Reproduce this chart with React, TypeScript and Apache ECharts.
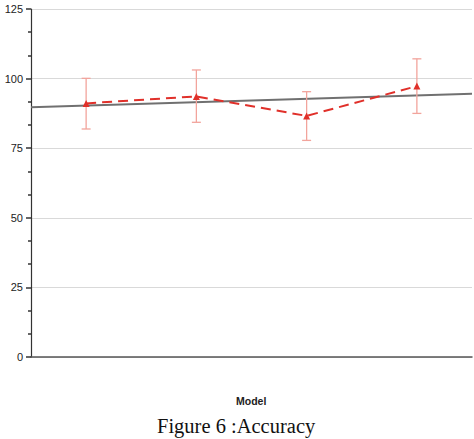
import React, { useEffect, useRef } from "react";
import * as echarts from "echarts";

const categories = [1, 2, 3, 4];
const accuracy = [91.1, 93.6, 86.6, 97.3];
const errLow = [81.9, 84.3, 77.8, 87.5];
const errHigh = [100.1, 103.1, 95.3, 107.1];
const trendX = [0.5, 4.5];
const trendY = [89.7, 94.6];
const yTicks = [0, 25, 50, 75, 100, 125];

export default function App() {
  const ref = useRef<HTMLDivElement>(null);
  useEffect(() => {
    const chart = echarts.init(ref.current!, undefined, { renderer: "svg" });
    const option: any = {
      animation: false,
      backgroundColor: "#ffffff",
      grid: { left: 31, right: 2, top: 9, bottom: 82 },
      xAxis: {
        type: "value",
        min: 0.5,
        max: 4.5,
        axisLine: { show: true, onZero: false, lineStyle: { color: "#555555", width: 1.5 } },
        axisTick: { show: false },
        axisLabel: { show: false },
        splitLine: { show: false },
      },
      yAxis: {
        type: "value",
        min: yTicks[0],
        max: yTicks[yTicks.length - 1],
        interval: 25,
        axisLine: { show: true, lineStyle: { color: "#333333", width: 1.2 } },
        axisTick: { show: true, length: 5, lineStyle: { color: "#333333", width: 1.5 } },
        minorTick: { show: true, splitNumber: 3, length: 3, lineStyle: { color: "#333333", width: 1.5 } },
        axisLabel: { color: "#222222", fontFamily: "Arial, Liberation Sans", fontSize: 11, margin: 8 },
        splitLine: { show: true, lineStyle: { color: "#d9d9d9", width: 1 } },
      },
      series: [
        {
          type: "line",
          data: trendX.map((x, i) => [x, trendY[i]]),
          symbol: "none",
          lineStyle: { color: "#707070", width: 2 },
          z: 2,
        },
        {
          type: "custom",
          data: categories.map((c, i) => [c, errLow[i], errHigh[i]]),
          renderItem: (params: any, api: any) => {
            const x = api.value(0);
            const lo = api.coord([x, api.value(1)]);
            const hi = api.coord([x, api.value(2)]);
            const w = 4.5;
            const style = { stroke: "#f2a49c", lineWidth: 1.3 };
            return {
              type: "group",
              children: [
                { type: "line", shape: { x1: lo[0], y1: lo[1], x2: hi[0], y2: hi[1] }, style },
                { type: "line", shape: { x1: lo[0] - w, y1: lo[1], x2: lo[0] + w, y2: lo[1] }, style },
                { type: "line", shape: { x1: hi[0] - w, y1: hi[1], x2: hi[0] + w, y2: hi[1] }, style },
              ],
            };
          },
          z: 3,
        },
        {
          type: "line",
          data: categories.map((c, i) => [c, accuracy[i]]),
          symbol: "triangle",
          symbolSize: 7,
          itemStyle: { color: "#e0302a" },
          lineStyle: { color: "#e0302a", width: 2, type: [10, 6] },
          z: 4,
        },
      ],
      graphic: [
        {
          type: "text",
          left: 236,
          top: 395,
          style: { text: "Model", font: "bold 10.5px Arial, 'Liberation Sans'", fill: "#222222" },
        },
        {
          type: "text",
          left: 157,
          top: 415,
          style: { text: "Figure 6 :Accuracy", font: "20.5px 'Liberation Serif', 'Times New Roman', serif", fill: "#111111" },
        },
      ],
    };
    chart.setOption(option);
    return () => chart.dispose();
  }, []);
  return <div ref={ref} style={{ position: "fixed", left: 0, top: 0, width: 474, height: 439 }} />;
}
